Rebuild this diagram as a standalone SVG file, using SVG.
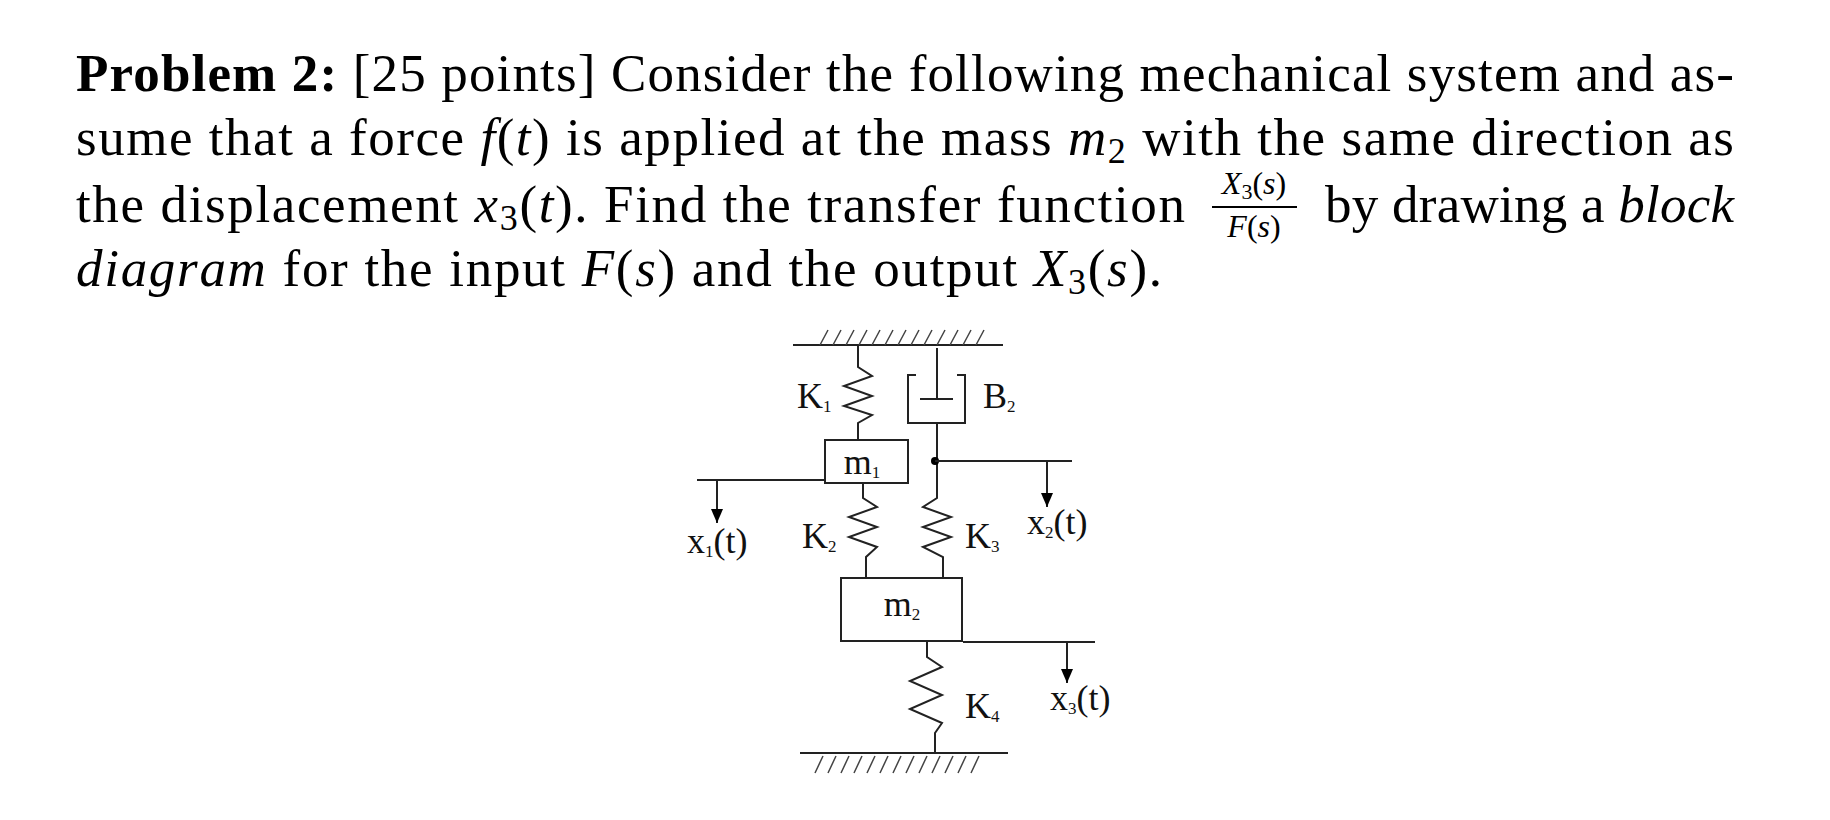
<svg xmlns="http://www.w3.org/2000/svg" width="1830" height="820" viewBox="0 0 1830 820">
<style>
.t{font-family:"Liberation Serif","DejaVu Serif",serif;font-size:53px;fill:#000}
.i{font-style:italic}
.f{font-family:"Liberation Serif","DejaVu Serif",serif;font-size:32px}
.l{font-family:"Liberation Serif","DejaVu Serif",serif;font-size:36px;fill:#111}
.s{font-size:17px}
.ln{stroke:#222;stroke-width:2;fill:none}
.h{stroke:#444;stroke-width:1.5}
</style>
<defs><marker id="a" markerWidth="14" markerHeight="12" refX="14" refY="6" orient="auto" markerUnits="userSpaceOnUse"><path d="M0,0 L14,6 L0,12 Z" fill="#000"/></marker></defs>
<rect width="1830" height="820" fill="#fff"/>
<g id="text">
<text class="t" x="76" y="91" textLength="1658" lengthAdjust="spacing"><tspan font-weight="bold">Problem 2:</tspan> [25 points] Consider the following mechanical system and as-</text>
<text class="t" x="76" y="155" textLength="1658" lengthAdjust="spacing">sume that a force <tspan class="i">f</tspan>(<tspan class="i">t</tspan>) is applied at the mass <tspan class="i">m</tspan><tspan font-size="36" dy="8">2</tspan><tspan dy="-8"> with the same direction as</tspan></text>
<text class="t" x="76" y="222" textLength="1109" lengthAdjust="spacing">the displacement <tspan class="i">x</tspan><tspan font-size="36" dy="8">3</tspan><tspan dy="-8">(</tspan><tspan class="i">t</tspan>). Find the transfer function</text>
<text class="f" x="1254" y="194" text-anchor="middle"><tspan class="i">X</tspan><tspan font-size="22" dy="5">3</tspan><tspan dy="-5">(</tspan><tspan class="i">s</tspan>)</text>
<line x1="1212" y1="207" x2="1297" y2="207" stroke="#000" stroke-width="2"/>
<text class="f" x="1254" y="237" text-anchor="middle"><tspan class="i">F</tspan>(<tspan class="i">s</tspan>)</text>
<text class="t" x="1325" y="222" textLength="409" lengthAdjust="spacing">by drawing a <tspan class="i">block</tspan></text>
<text class="t" x="76" y="286" textLength="1086" lengthAdjust="spacing"><tspan class="i">diagram</tspan> for the input <tspan class="i">F</tspan>(<tspan class="i">s</tspan>) and the output <tspan class="i">X</tspan><tspan font-size="36" dy="8">3</tspan><tspan dy="-8">(</tspan><tspan class="i">s</tspan>).</text>
</g>
<g id="ground-top">
<line class="ln" x1="793" y1="345" x2="1003" y2="345"/>
<path class="h" d="M820,345l8,-15M833,345l8,-15M846,345l8,-15M859,345l8,-15M872,345l8,-15M885,345l8,-15M898,345l8,-15M911,345l8,-15M924,345l8,-15M937,345l8,-15M950,345l8,-15M963,345l8,-15M976,345l8,-15"/>
</g>
<g id="ground-bottom">
<line class="ln" x1="800" y1="753" x2="1008" y2="753"/>
<path class="h" d="M815,773l8,-17M828,773l8,-17M841,773l8,-17M854,773l8,-17M867,773l8,-17M880,773l8,-17M893,773l8,-17M906,773l8,-17M919,773l8,-17M932,773l8,-17M945,773l8,-17M958,773l8,-17M971,773l8,-17"/>
</g>
<g id="m1"><rect class="ln" x="825" y="440" width="83" height="43"/><text class="l" x="862" y="474" text-anchor="middle">m<tspan class="s" dy="4">1</tspan></text></g>
<g id="m2"><rect class="ln" x="841" y="578" width="121" height="63"/><text class="l" x="902" y="616" text-anchor="middle">m<tspan class="s" dy="4">2</tspan></text></g>
<g id="connectors">
<path class="ln" d="M858,345 V367 L872,376 L844,386 L872,396 L844,406 L872,415 L858,423 V440"/>
<path class="ln" d="M863,483 V498 L877,507 L849,517 L877,527 L849,537 L877,547 L866,557 V578"/>
<path class="ln" d="M937,461 V498 L923,507 L951,517 L923,527 L951,537 L923,547 L943,557 V578"/>
<path class="ln" d="M927,641 V657 L942,667 L910,681 L942,695 L910,709 L942,723 L935,733 V753"/>
<line class="ln" x1="937" y1="348" x2="937" y2="399"/>
<line class="ln" x1="920" y1="399" x2="953" y2="399"/>
<path class="ln" d="M916,375 H908 V423 H965 V375 H957"/>
<line class="ln" x1="937" y1="423" x2="937" y2="461"/>
<circle cx="935" cy="461" r="4" fill="#000"/>
<line class="ln" x1="697" y1="480" x2="825" y2="480"/>
<line class="ln" x1="717" y1="480" x2="717" y2="523" marker-end="url(#a)"/>
<line class="ln" x1="935" y1="461" x2="1072" y2="461"/>
<line class="ln" x1="1047" y1="461" x2="1047" y2="507" marker-end="url(#a)"/>
<line class="ln" x1="963" y1="642" x2="1095" y2="642"/>
<line class="ln" x1="1067" y1="642" x2="1067" y2="683" marker-end="url(#a)"/>
</g>
<g id="labels">
<text class="l" x="797" y="408">K<tspan class="s" dy="4">1</tspan></text>
<text class="l" x="983" y="408">B<tspan class="s" dy="4">2</tspan></text>
<text class="l" x="802" y="548">K<tspan class="s" dy="4">2</tspan></text>
<text class="l" x="965" y="548">K<tspan class="s" dy="4">3</tspan></text>
<text class="l" x="965" y="718">K<tspan class="s" dy="4">4</tspan></text>
<text class="l" x="687" y="553">x<tspan class="s" dy="4">1</tspan><tspan dy="-4">(t)</tspan></text>
<text class="l" x="1027" y="534">x<tspan class="s" dy="4">2</tspan><tspan dy="-4">(t)</tspan></text>
<text class="l" x="1050" y="710">x<tspan class="s" dy="4">3</tspan><tspan dy="-4">(t)</tspan></text>
</g>
</svg>
